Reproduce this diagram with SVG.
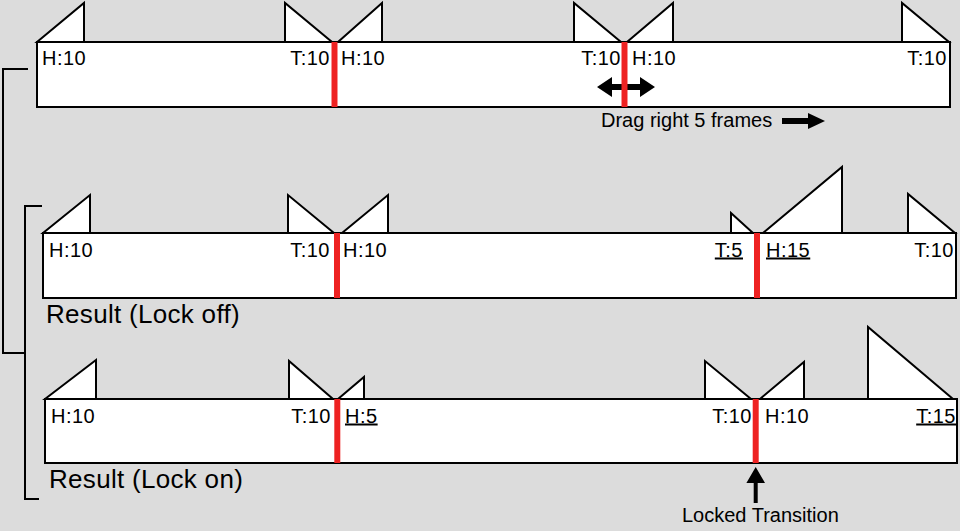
<svg xmlns="http://www.w3.org/2000/svg" width="960" height="531" viewBox="0 0 960 531">
<style>
.bg{fill:#dcdcdc}
.trk{fill:#ffffff;stroke:#000;stroke-width:2}
.tri{fill:#ffffff;stroke:#000;stroke-width:2;stroke-linejoin:miter}
.cut{stroke:#ee2222;stroke-width:6}
.lb{font-family:"Liberation Sans",Arial,sans-serif;font-size:20px;letter-spacing:0.5px;fill:#000}
.cap{font-family:"Liberation Sans",Arial,sans-serif;font-size:20px;fill:#000}
.end{text-anchor:end}
.ul{text-decoration:underline}
.big{font-family:"Liberation Sans",Arial,sans-serif;font-size:26px;letter-spacing:0.3px;fill:#000}
.br{fill:none;stroke:#000;stroke-width:2}
.arr{fill:#000}
</style>
<rect class="bg" x="0" y="0" width="960" height="531"/>
<g id="connectors">
<polyline class="br" points="28,69 3,69 3,353 25,353"/>
<polyline class="br" points="42,206 25,206 25,499 39,499"/>
</g>
<g id="track-original">
<rect class="trk" x="37" y="42" width="913" height="65"/>
<polygon class="tri" points="37,42 84,3 84,42"/>
<polygon class="tri" points="285,42 285,3 332,42"/>
<polygon class="tri" points="338,42 382,3 382,42"/>
<polygon class="tri" points="574,42 574,3 621,42"/>
<polygon class="tri" points="627,42 673,3 673,42"/>
<polygon class="tri" points="902,42 902,3 949,42"/>
<text class="lb" x="42" y="65">H:10</text>
<text class="lb end" x="330" y="65">T:10</text>
<text class="lb" x="341" y="65">H:10</text>
<text class="lb end" x="621" y="65">T:10</text>
<text class="lb" x="632" y="65">H:10</text>
<text class="lb end" x="947" y="65">T:10</text>
<polygon class="arr" points="597,87 612,77 612,84 640,84 640,77 655,87 640,97 640,90 612,90 612,97"/>
<line class="cut" x1="334.5" y1="42" x2="334.5" y2="107"/>
<line class="cut" x1="624.5" y1="42" x2="624.5" y2="107"/>
<text class="cap" x="601" y="127">Drag right 5 frames</text>
<polygon class="arr" points="782,118 808,118 808,113 825,121 808,129 808,124 782,124"/>
</g>
<g id="track-lock-off">
<rect class="trk" x="43" y="233" width="913" height="65"/>
<polygon class="tri" points="43,233 90,195 90,233"/>
<polygon class="tri" points="288,233 288,195 334,233"/>
<polygon class="tri" points="342,233 388,195 388,233"/>
<polygon class="tri" points="731,233 731,213 753,233"/>
<polygon class="tri" points="763,233 842,167 842,233"/>
<polygon class="tri" points="908,233 908,194 955,233"/>
<text class="lb" x="49" y="256.5">H:10</text>
<text class="lb end" x="330" y="256.5">T:10</text>
<text class="lb" x="343" y="256.5">H:10</text>
<text class="lb end ul" x="743" y="256.5">T:5</text>
<text class="lb ul" x="766" y="256.5">H:15</text>
<text class="lb end" x="954" y="256.5">T:10</text>
<line class="cut" x1="757" y1="233" x2="757" y2="298"/>
<line class="cut" x1="337" y1="233" x2="337" y2="298"/>
<text class="big" x="46" y="322.5">Result (Lock off)</text>
</g>
<g id="track-lock-on">
<rect class="trk" x="45" y="399" width="912" height="64"/>
<polygon class="tri" points="45,399 96,360 96,399"/>
<polygon class="tri" points="289,399 289,361 333,399"/>
<polygon class="tri" points="338,399 364,377 364,399"/>
<polygon class="tri" points="705,399 705,361 751,399"/>
<polygon class="tri" points="760,399 804,362 804,399"/>
<polygon class="tri" points="868,399 868,327 953,399"/>
<text class="lb" x="51" y="422.5">H:10</text>
<text class="lb end" x="331" y="422.5">T:10</text>
<text class="lb ul" x="345" y="422.5">H:5</text>
<text class="lb end" x="752" y="422.5">T:10</text>
<text class="lb" x="765" y="422.5">H:10</text>
<text class="lb end ul" x="956" y="422.5">T:15</text>
<line class="cut" x1="337.3" y1="399" x2="337.3" y2="463"/>
<line class="cut" x1="755.7" y1="399" x2="755.7" y2="463"/>
<text class="big" x="49" y="488">Result (Lock on)</text>
<polygon class="arr" points="755.7,467 765,483 757.7,483 757.7,503 753.7,503 753.7,483 746.4,483"/>
<text class="cap" x="682" y="522">Locked Transition</text>
</g>
</svg>
